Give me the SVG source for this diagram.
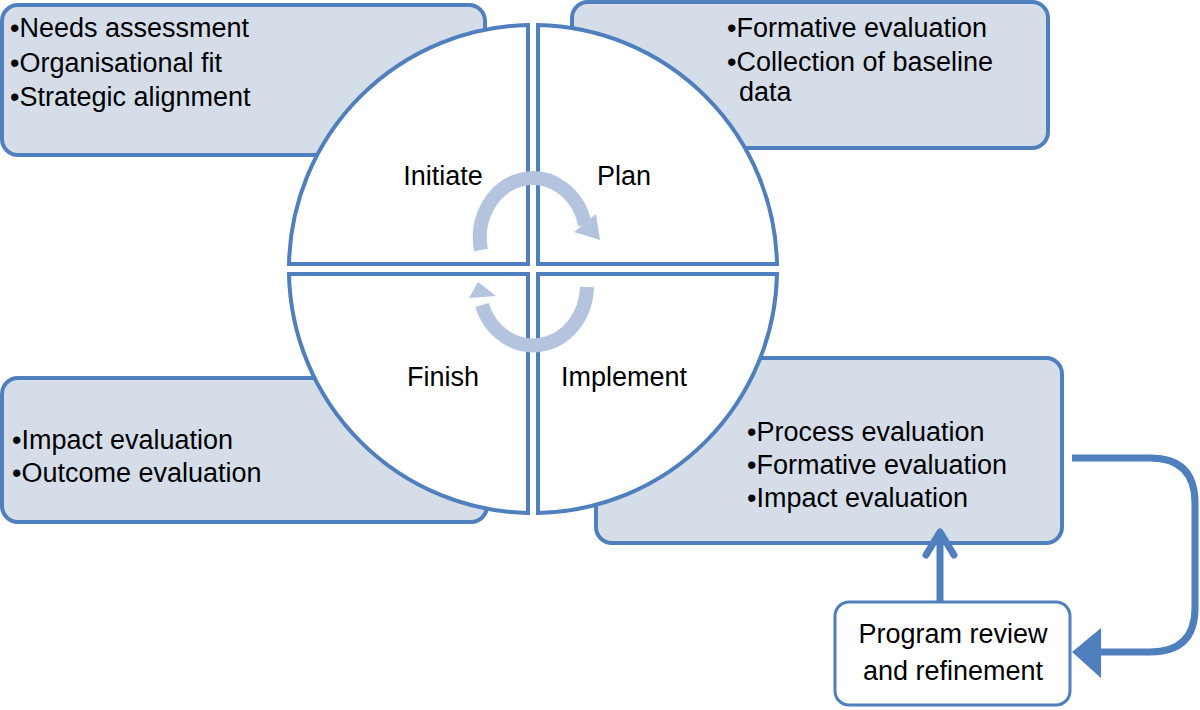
<svg xmlns="http://www.w3.org/2000/svg" width="1200" height="710" viewBox="0 0 1200 710">
<style>
.box{fill:#d5dde9;stroke:#4f7fbc;stroke-width:4}
.q{fill:#fff;stroke:#4f7fbc;stroke-width:4}
text{font-family:"Liberation Sans",Arial,sans-serif;font-size:27px;fill:#000}
.cyc{fill:none;stroke:#b4c4de;stroke-width:14}
.cn{fill:none;stroke:#4f7fbc;stroke-width:7}
</style>
<g id="box-tl"><rect class="box" x="2" y="5" width="483" height="150" rx="16"/>
<text x="10" y="37">•Needs assessment</text><text x="10" y="72">•Organisational fit</text><text x="10" y="106">•Strategic alignment</text></g>
<g id="box-tr"><rect class="box" x="572" y="2" width="476" height="146" rx="16"/>
<text x="727" y="37">•Formative evaluation</text><text x="727" y="71">•Collection of baseline</text><text x="739" y="101">data</text></g>
<g id="box-bl"><rect class="box" x="2" y="378" width="485" height="144" rx="16"/>
<text x="12" y="449">•Impact evaluation</text><text x="12" y="482">•Outcome evaluation</text></g>
<g id="box-br"><rect class="box" x="596" y="358" width="466" height="185" rx="16"/>
<text x="747" y="441">•Process evaluation</text><text x="747" y="474">•Formative evaluation</text><text x="747" y="507">•Impact evaluation</text></g>
<g id="initiate"><path class="q" d="M528,264 L528,25 A244,244 0 0 0 289,264 Z"/><text x="443" y="185" text-anchor="middle">Initiate</text></g>
<g id="plan"><path class="q" d="M538,264 L538,25 A244,244 0 0 1 777,264 Z"/><text x="624" y="185" text-anchor="middle">Plan</text></g>
<g id="finish"><path class="q" d="M528,274 L528,513 A244,244 0 0 1 289,274 Z"/><text x="443" y="386" text-anchor="middle">Finish</text></g>
<g id="implement"><path class="q" d="M538,274 L538,513 A244,244 0 0 0 777,274 Z"/><text x="624" y="386" text-anchor="middle">Implement</text></g>
<g id="review"><rect x="835" y="602" width="235" height="103" rx="14" fill="#fff" stroke="#4f7fbc" stroke-width="3"/>
<text x="953" y="643" text-anchor="middle" font-size="25">Program review</text><text x="953" y="680" text-anchor="middle" font-size="25">and refinement</text></g>
<g id="connectors">
<path class="cyc" d="M481,250 A52,58 0 0 1 585,225"/>
<path d="M574,232 L600,240 L596,214 Z" fill="#b4c4de"/>
<path class="cyc" d="M587,287 A54,60 0 0 1 482,305"/>
<path d="M469,298 L478,282 L496,296 Z" fill="#b4c4de"/>
<path class="cn" d="M940,602 L940,532"/>
<path class="cn" d="M926,555 L940,532 L954,555" stroke-linecap="round" stroke-linejoin="round"/>
<path class="cn" d="M1072,458 L1150,458 Q1195,458 1195,503 L1195,608 Q1195,652 1150,652 L1100,652"/>
<path d="M1072,652 L1101,628 L1101,678 Z" fill="#4f7fbc"/>
</g>
</svg>
